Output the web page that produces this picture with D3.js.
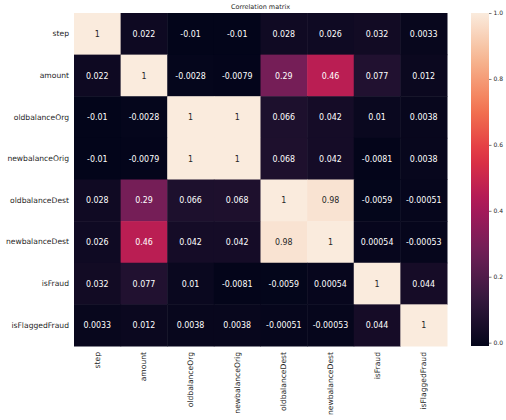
<!DOCTYPE html>
<html lang="en">
	<head>
		<meta charset="utf-8">
		<title>Correlation matrix</title>
		<script src="https://cdn.jsdelivr.net/npm/d3@7"></script>
		<style>
			body { margin: 0; background: #fff; }
			text { font-family: "DejaVu Sans", sans-serif; }
		</style>
	</head>
	<body>
		<script>

		/*////////////
		//  Data  //
		////////////*/

		var labels = ["step", "amount", "oldbalanceOrg", "newbalanceOrig",
			"oldbalanceDest", "newbalanceDest", "isFraud", "isFlaggedFraud"];

		var stepRow           = [1, 0.022, -0.01, -0.01, 0.028, 0.026, 0.032, 0.0033];
		var amountRow         = [0.022, 1, -0.0028, -0.0079, 0.29, 0.46, 0.077, 0.012];
		var oldbalanceOrgRow  = [-0.01, -0.0028, 1, 1, 0.066, 0.042, 0.01, 0.0038];
		var newbalanceOrigRow = [-0.01, -0.0079, 1, 1, 0.068, 0.042, -0.0081, 0.0038];
		var oldbalanceDestRow = [0.028, 0.29, 0.066, 0.068, 1, 0.98, -0.0059, -0.00051];
		var newbalanceDestRow = [0.026, 0.46, 0.042, 0.042, 0.98, 1, 0.00054, -0.00053];
		var isFraudRow        = [0.032, 0.077, 0.01, -0.0081, -0.0059, 0.00054, 1, 0.044];
		var isFlaggedFraudRow = [0.0033, 0.012, 0.0038, 0.0038, -0.00051, -0.00053, 0.044, 1];

		var colorbarTicks = [0, 0.2, 0.4, 0.6, 0.8, 1.0];

		// seaborn "rocket" colour stops
		var rocket = ["#03051a", "#35193e", "#701f57", "#ad1759", "#e13342", "#f37651", "#f6b48f", "#faebdd"];

		var matrix = [stepRow, amountRow, oldbalanceOrgRow, newbalanceOrigRow,
			oldbalanceDestRow, newbalanceDestRow, isFraudRow, isFlaggedFraudRow];

		var cells = [];
		matrix.forEach(function(row, i) {
			row.forEach(function(v, j) {
				cells.push({ row: labels[i], col: labels[j], value: v });
			});
		});

		/*//////////////////////
		//  SVG Canvas Setup  //
		//////////////////////*/

		var w = 506;
		var h = 420;

		var plot = { left: 74, top: 13, right: 447, bottom: 346 };
		var bar = { left: 471, right: 489 };

		var svg = d3.select("body")
			.append("svg")
			.attr("width", w)
			.attr("height", h);

		var vmin = d3.min(cells, function(d) { return d.value; });
		var vmax = d3.max(cells, function(d) { return d.value; });

		var color = d3.scaleLinear()
			.domain(rocket.map(function(c, i) { return vmin + (vmax - vmin) * i / (rocket.length - 1); }))
			.range(rocket)
			.interpolate(d3.interpolateRgb);

		var x = d3.scaleBand()
			.domain(labels)
			.range([plot.left, plot.right]);

		var y = d3.scaleBand()
			.domain(labels)
			.range([plot.top, plot.bottom]);

		// plain hyphen for negatives, like matplotlib's annot text
		var locale = d3.formatLocale({ decimal: ".", thousands: ",", grouping: [3], currency: ["", ""], minus: "-" });
		var fmt = locale.format(".2~g");

		// relative luminance, like seaborn picks the annotation colour
		function lum(c) {
			var rgb = d3.rgb(c);
			var ch = [rgb.r, rgb.g, rgb.b].map(function(v) {
				v = v / 255;
				return v <= 0.03928 ? v / 12.92 : Math.pow((v + 0.055) / 1.055, 2.4);
			});
			return 0.2126 * ch[0] + 0.7152 * ch[1] + 0.0722 * ch[2];
		}

		/*/////////////////
		//  Heatmap      //
		/////////////////*/

		var g = svg.selectAll("g.cell")
			.data(cells)
			.enter()
			.append("g")
			.attr("class", "cell");

		g.append("rect")
			.attr("x", function(d) { return x(d.col); })
			.attr("y", function(d) { return y(d.row); })
			.attr("width", x.bandwidth() + 0.5)
			.attr("height", y.bandwidth() + 0.5)
			.attr("fill", function(d) { return color(d.value); });

		// the picture is a little squeezed sideways, so the digits are too
		g.append("text")
			.attr("transform", function(d) {
				return "translate(" + (x(d.col) + x.bandwidth() / 2) + "," + (y(d.row) + y.bandwidth() / 2) + ") scale(0.88,1)";
			})
			.attr("text-anchor", "middle")
			.attr("dominant-baseline", "central")
			.attr("font-size", 9)
			.attr("fill", function(d) { return lum(color(d.value)) > 0.408 ? "#262626" : "#ffffff"; })
			.text(function(d) { return fmt(d.value); });

		// Axes
		var yAxis = svg.append("g")
			.attr("transform", "translate(" + plot.left + ",0)")
			.call(d3.axisLeft(y).tickSize(0).tickPadding(5));

		var xAxis = svg.append("g")
			.attr("transform", "translate(0," + plot.bottom + ")")
			.call(d3.axisBottom(x).tickSize(0).tickPadding(5));

		svg.selectAll(".domain").remove();

		yAxis.selectAll("text")
			.attr("font-size", 7.6)
			.attr("fill", "#262626");

		xAxis.selectAll("text")
			.attr("font-size", 7.6)
			.attr("fill", "#262626")
			.attr("text-anchor", "end")
			.attr("dominant-baseline", "central")
			.attr("dy", null)
			.attr("y", 0)
			.attr("transform", "translate(0,6) rotate(-90)");

		// Title
		svg.append("text")
			.attr("x", (plot.left + plot.right) / 2)
			.attr("y", 9)
			.attr("text-anchor", "middle")
			.attr("font-size", 6.5)
			.attr("fill", "#262626")
			.text("Correlation matrix");

		/*/////////////////
		//  Colorbar     //
		/////////////////*/

		var grad = svg.append("defs")
			.append("linearGradient")
			.attr("id", "cbar")
			.attr("x1", 0).attr("y1", 1)
			.attr("x2", 0).attr("y2", 0);

		grad.selectAll("stop")
			.data(d3.range(0, 1.0001, 0.05))
			.enter()
			.append("stop")
			.attr("offset", function(t) { return t; })
			.attr("stop-color", function(t) { return color(vmin + t * (vmax - vmin)); });

		svg.append("rect")
			.attr("x", bar.left)
			.attr("y", plot.top)
			.attr("width", bar.right - bar.left)
			.attr("height", plot.bottom - plot.top)
			.attr("fill", "url(#cbar)");

		var cy = d3.scaleLinear()
			.domain([vmin, vmax])
			.range([plot.bottom, plot.top]);

		var cAxis = svg.append("g")
			.attr("transform", "translate(" + bar.right + ",0)")
			.call(d3.axisRight(cy).tickValues(colorbarTicks).tickFormat(d3.format(".1f")).tickSize(2.5).tickPadding(2));

		cAxis.select(".domain").remove();
		cAxis.selectAll("line").attr("stroke", "#262626").attr("stroke-width", 0.6);
		cAxis.selectAll("text")
			.attr("font-size", 6)
			.attr("fill", "#262626");

		</script>
	</body>
</html>
